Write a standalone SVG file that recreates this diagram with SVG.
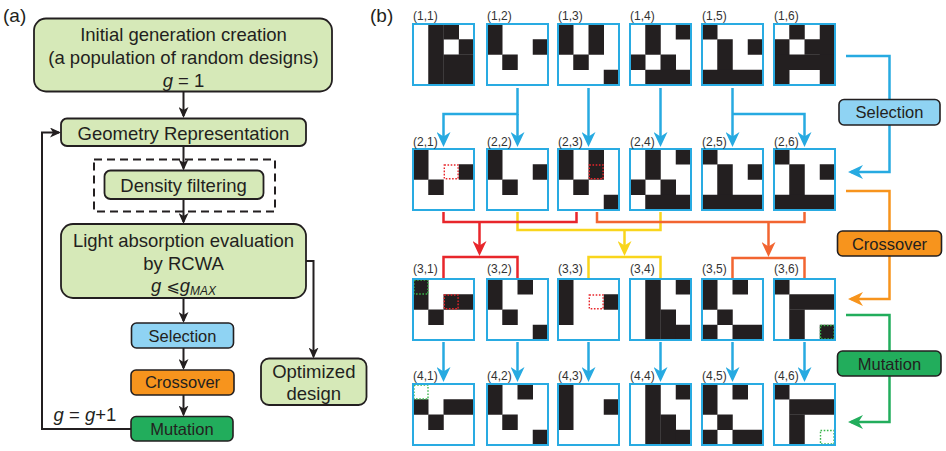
<svg xmlns="http://www.w3.org/2000/svg" xmlns:xlink="http://www.w3.org/1999/xlink" width="946" height="451" viewBox="0 0 946 451">
<style>
.t{font-family:"Liberation Sans",Arial,sans-serif;font-size:18.5px;fill:#231f20;text-anchor:middle}
.s{font-size:16.5px}
.lb{font-family:"Liberation Sans",Arial,sans-serif;font-size:12px;fill:#333}
.pl{font-family:"Liberation Sans",Arial,sans-serif;font-size:19px;fill:#231f20}
.gb{fill:#d6e9b8;stroke:#231f20;stroke-width:1.8}
.bx{stroke:#231f20;stroke-width:1.6}
.fr{fill:none;stroke:#29abe2;stroke-width:2}
.k{fill:#231f20}
.rd{fill:none;stroke:#e8262b;stroke-width:1.4;stroke-dasharray:1.6 1.6}
.gd{fill:none;stroke:#39b54a;stroke-width:1.4;stroke-dasharray:1.6 1.6}
.ln{fill:none;stroke-width:2.5}
</style>
<defs>
<marker id="mk" viewBox="-11 -5 11 10" refX="-2" refY="0" markerWidth="11" markerHeight="10" markerUnits="userSpaceOnUse" orient="auto"><path d="M0,0 L-11,-5 L-8,0 L-11,5Z" fill="#231f20"/></marker>
<marker id="mb" viewBox="-15 -7 15 14" refX="-3" refY="0" markerWidth="15" markerHeight="14" markerUnits="userSpaceOnUse" orient="auto"><path d="M0,0 L-15,-7 L-10.5,0 L-15,7Z" fill="#27aae1"/></marker>
<marker id="mr" viewBox="-15 -7 15 14" refX="-3" refY="0" markerWidth="15" markerHeight="14" markerUnits="userSpaceOnUse" orient="auto"><path d="M0,0 L-15,-7 L-10.5,0 L-15,7Z" fill="#e8262b"/></marker>
<marker id="my" viewBox="-15 -7 15 14" refX="-3" refY="0" markerWidth="15" markerHeight="14" markerUnits="userSpaceOnUse" orient="auto"><path d="M0,0 L-15,-7 L-10.5,0 L-15,7Z" fill="#f9d51c"/></marker>
<marker id="mo" viewBox="-15 -7 15 14" refX="-3" refY="0" markerWidth="15" markerHeight="14" markerUnits="userSpaceOnUse" orient="auto"><path d="M0,0 L-15,-7 L-10.5,0 L-15,7Z" fill="#f26531"/></marker>
<marker id="mc" viewBox="-15 -7 15 14" refX="-3" refY="0" markerWidth="15" markerHeight="14" markerUnits="userSpaceOnUse" orient="auto"><path d="M0,0 L-15,-7 L-10.5,0 L-15,7Z" fill="#f7941d"/></marker>
<marker id="mg" viewBox="-15 -7 15 14" refX="-3" refY="0" markerWidth="15" markerHeight="14" markerUnits="userSpaceOnUse" orient="auto"><path d="M0,0 L-15,-7 L-10.5,0 L-15,7Z" fill="#22ad5c"/></marker>
<g id="p11" class="k"><rect x="15.25" y="0" width="15.5" height="61"/><rect x="30.5" y="0" width="15.5" height="15.5"/><rect x="45.75" y="15.25" width="15.25" height="15.5"/><rect x="30.5" y="30.5" width="30.5" height="30.5"/></g>
<g id="p12" class="k"><rect x="0" y="0" width="15.5" height="30.75"/><rect x="45.75" y="15.25" width="15.25" height="15.5"/><rect x="15.25" y="30.5" width="15.5" height="15.5"/></g>
<g id="p13" class="k"><rect x="0" y="0" width="15.5" height="30.75"/><rect x="30.5" y="0" width="15.5" height="30.75"/><rect x="15.25" y="30.5" width="15.5" height="15.5"/><rect x="45.75" y="45.75" width="15.25" height="15.25"/></g>
<g id="p14" class="k"><rect x="15.25" y="0" width="15.5" height="30.75"/><rect x="45.75" y="0" width="15.25" height="15.5"/><rect x="0" y="30.5" width="15.5" height="15.5"/><rect x="30.5" y="30.5" width="15.5" height="15.5"/><rect x="15.25" y="45.75" width="45.75" height="15.25"/></g>
<g id="p15" class="k"><rect x="0" y="0" width="15.5" height="15.5"/><rect x="15.25" y="15.25" width="15.5" height="30.75"/><rect x="45.75" y="15.25" width="15.25" height="15.5"/><rect x="0" y="45.75" width="61" height="15.25"/></g>
<g id="p16" class="k"><rect x="15.25" y="0" width="15.5" height="15.5"/><rect x="45.75" y="0" width="15.25" height="61"/><rect x="0" y="15.25" width="15.5" height="45.75"/><rect x="30.5" y="15.25" width="15.5" height="15.5"/><rect x="0" y="30.5" width="61" height="15.5"/></g>
<g id="p31" class="k"><rect x="0" y="0" width="15.5" height="30.75"/><rect x="30.5" y="15.25" width="30.5" height="15.5"/><rect x="15.25" y="30.5" width="15.5" height="15.5"/></g>
<g id="p32" class="k"><rect x="0" y="0" width="15.5" height="30.75"/><rect x="30.5" y="0" width="15.5" height="15.5"/><rect x="15.25" y="30.5" width="15.5" height="15.5"/><rect x="45.75" y="45.75" width="15.25" height="15.25"/></g>
<g id="p33" class="k"><rect x="0" y="0" width="15.5" height="46"/><rect x="45.75" y="15.25" width="15.25" height="15.5"/></g>
<g id="p34" class="k"><rect x="15.25" y="0" width="15.5" height="61"/><rect x="45.75" y="0" width="15.25" height="15.5"/><rect x="30.5" y="30.5" width="15.5" height="30.5"/><rect x="45.75" y="45.75" width="15.25" height="15.25"/></g>
<g id="p35" class="k"><rect x="0" y="0" width="15.5" height="30.75"/><rect x="30.5" y="0" width="15.5" height="15.5"/><rect x="15.25" y="30.5" width="15.5" height="15.5"/><rect x="0" y="45.75" width="15.5" height="15.25"/><rect x="30.5" y="45.75" width="30.5" height="15.25"/></g>
<g id="p36" class="k"><rect x="0" y="0" width="15.5" height="15.5"/><rect x="15.25" y="15.25" width="45.75" height="15.5"/><rect x="15.25" y="30.5" width="15.5" height="30.5"/><rect x="45.75" y="45.75" width="15.25" height="15.25"/></g>
<g id="p41" class="k"><rect x="0" y="15.25" width="15.5" height="15.5"/><rect x="30.5" y="15.25" width="30.5" height="15.5"/><rect x="15.25" y="30.5" width="15.5" height="15.5"/></g>
<g id="p46" class="k"><rect x="0" y="0" width="15.5" height="15.5"/><rect x="15.25" y="15.25" width="45.75" height="15.5"/><rect x="15.25" y="30.5" width="15.5" height="30.5"/></g>
</defs>
<rect x="0" y="0" width="946" height="451" fill="#fff"/>

<text class="pl" x="3" y="22">(a)</text>
<text class="pl" x="370" y="22">(b)</text>

<!-- panel (a) connectors -->
<g id="connectors-a" fill="none" stroke="#231f20" stroke-width="2">
<path d="M183.5,92 V116" marker-end="url(#mk)"/>
<path d="M183.5,146 V168.5" marker-end="url(#mk)"/>
<path d="M183.5,199 V222" marker-end="url(#mk)"/>
<path d="M183.5,298 V321" marker-end="url(#mk)"/>
<path d="M183.5,348 V368" marker-end="url(#mk)"/>
<path d="M183.5,395 V414.5" marker-end="url(#mk)"/>
<path d="M306,261 H313.5 V356.5" marker-end="url(#mk)"/>
<path d="M131,429 H42 V132.5 H59" marker-end="url(#mk)"/>
<rect x="94" y="159.5" width="181" height="52" stroke-dasharray="8 5"/>
</g>

<g id="a-init"><rect class="gb" x="34" y="18.5" width="298" height="73" rx="12"/>
<text class="t" x="183.5" y="41">Initial generation creation</text>
<text class="t" x="183.5" y="63.5">(a population of random designs)</text>
<text class="t" x="183.5" y="86.5"><tspan font-style="italic">g</tspan> = 1</text></g>
<g id="a-geom"><rect class="gb" x="61" y="118.5" width="245" height="27.5" rx="6"/>
<text class="t" x="183.5" y="139.5">Geometry Representation</text></g>
<g id="a-density"><rect class="gb" x="104.5" y="170.5" width="159" height="28.5" rx="6"/>
<text class="t" x="183.5" y="191.5">Density filtering</text></g>
<g id="a-light"><rect class="gb" x="61" y="224" width="245" height="74" rx="12"/>
<text class="t" x="183.5" y="247">Light absorption evaluation</text>
<text class="t" x="183.5" y="270">by RCWA</text>
<text class="t" x="183.5" y="292"><tspan font-style="italic">g</tspan> <tspan font-family="'DejaVu Sans',sans-serif" font-size="16">⩽</tspan><tspan font-style="italic">g</tspan><tspan font-style="italic" font-size="12" dy="3">MAX</tspan></text></g>
<g id="a-selection"><rect class="bx" x="131.5" y="323" width="102" height="25" rx="5" fill="#8fd3f3"/>
<text class="t s" x="182.5" y="341.5">Selection</text></g>
<g id="a-crossover"><rect class="bx" x="131" y="370" width="103" height="25" rx="5" fill="#f7941d"/>
<text class="t s" x="182.5" y="388.3">Crossover</text></g>
<g id="a-mutation"><rect class="bx" x="131" y="416.5" width="102" height="24.5" rx="5" fill="#22ad5c"/>
<text class="t s" x="182" y="434.8">Mutation</text></g>
<g id="a-optimized"><rect class="gb" x="261" y="358.5" width="105.5" height="46.5" rx="8"/>
<text class="t" x="313.8" y="378">Optimized</text>
<text class="t" x="313.8" y="400">design</text></g>
<text class="t" x="53.5" y="421" style="text-anchor:start"><tspan font-style="italic">g</tspan> = <tspan font-style="italic">g</tspan>+1</text>

<!-- panel (b) connectors -->
<g id="connectors-b">
<g class="ln" stroke="#27aae1">
<path d="M517.5,88 V114 H443.5 V144" marker-end="url(#mb)"/>
<path d="M517.5,114 V144" marker-end="url(#mb)"/>
<path d="M588.5,88 V144" marker-end="url(#mb)"/>
<path d="M660.5,88 V144" marker-end="url(#mb)"/>
<path d="M732.5,88 V144" marker-end="url(#mb)"/>
<path d="M732.5,114 H804.5 V144" marker-end="url(#mb)"/>
<path d="M846,56 H889.5 V172 H851" marker-end="url(#mb)"/>
<path d="M443.5,342 V379" marker-end="url(#mb)"/>
<path d="M517.5,342 V379" marker-end="url(#mb)"/>
<path d="M588.5,342 V379" marker-end="url(#mb)"/>
<path d="M660.5,342 V379" marker-end="url(#mb)"/>
<path d="M732.5,342 V379" marker-end="url(#mb)"/>
<path d="M804.5,342 V379" marker-end="url(#mb)"/>
</g>
<g class="ln" stroke="#f9d51c">
<path d="M517.5,212 V230 H660.5 V212"/>
<path d="M624.5,230 V253" marker-end="url(#my)"/>
<path d="M588.5,279 V257 H660.5 V279"/>
</g>
<g class="ln" stroke="#e8262b">
<path d="M443.5,212 V222 H576.5 V212"/>
<path d="M479.5,222 V253" marker-end="url(#mr)"/>
<path d="M443.5,279 V257 H517.5 V279"/>
</g>
<g class="ln" stroke="#f26531">
<path d="M597,212 V222 H804.5 V212"/>
<path d="M768.5,222 V254" marker-end="url(#mo)"/>
<path d="M732.5,279 V258 H804.5 V279"/>
</g>
<path class="ln" stroke="#f7941d" d="M846,191 H889.5 V299 H851" marker-end="url(#mc)"/>
<path class="ln" stroke="#22ad5c" d="M846,315 H889.5 V422 H851" marker-end="url(#mg)"/>
</g>

<g id="b-selection"><rect class="bx" x="839" y="99.5" width="101" height="25.5" rx="5" fill="#8fd3f3"/>
<text class="t s" x="889.5" y="118">Selection</text></g>
<g id="b-crossover"><rect class="bx" x="837.5" y="231" width="104" height="25" rx="5" fill="#f7941d"/>
<text class="t s" x="889.5" y="249.5">Crossover</text></g>
<g id="b-mutation"><rect class="bx" x="837.5" y="351" width="103.5" height="25" rx="5" fill="#22ad5c"/>
<text class="t s" x="889.5" y="369.5">Mutation</text></g>

<!-- row 1 -->
<g id="n1-1" transform="translate(413,24)"><use href="#p11"/><rect class="fr" width="61" height="61"/><text class="lb" x="0" y="-4.5">(1,1)</text></g>
<g id="n1-2" transform="translate(487,24)"><use href="#p12"/><rect class="fr" width="61" height="61"/><text class="lb" x="0" y="-4.5">(1,2)</text></g>
<g id="n1-3" transform="translate(558,24)"><use href="#p13"/><rect class="fr" width="61" height="61"/><text class="lb" x="0" y="-4.5">(1,3)</text></g>
<g id="n1-4" transform="translate(630,24)"><use href="#p14"/><rect class="fr" width="61" height="61"/><text class="lb" x="0" y="-4.5">(1,4)</text></g>
<g id="n1-5" transform="translate(702,24)"><use href="#p15"/><rect class="fr" width="61" height="61"/><text class="lb" x="0" y="-4.5">(1,5)</text></g>
<g id="n1-6" transform="translate(774,24)"><use href="#p16"/><rect class="fr" width="61" height="61"/><text class="lb" x="0" y="-4.5">(1,6)</text></g>
<!-- row 2 -->
<g id="n2-1" transform="translate(413,149)"><use href="#p12"/><rect class="rd" x="31.3" y="16" width="13.8" height="13.8"/><rect class="fr" width="61" height="61"/><text class="lb" x="0" y="-3.5">(2,1)</text></g>
<g id="n2-2" transform="translate(487,149)"><use href="#p12"/><rect class="fr" width="61" height="61"/><text class="lb" x="0" y="-3.5">(2,2)</text></g>
<g id="n2-3" transform="translate(558,149)"><use href="#p13"/><rect class="rd" x="31.3" y="16" width="13.8" height="13.8"/><rect class="fr" width="61" height="61"/><text class="lb" x="0" y="-3.5">(2,3)</text></g>
<g id="n2-4" transform="translate(630,149)"><use href="#p14"/><rect class="fr" width="61" height="61"/><text class="lb" x="0" y="-3.5">(2,4)</text></g>
<g id="n2-5" transform="translate(702,149)"><use href="#p15"/><rect class="fr" width="61" height="61"/><text class="lb" x="0" y="-3.5">(2,5)</text></g>
<g id="n2-6" transform="translate(774,149)"><use href="#p15"/><rect class="fr" width="61" height="61"/><text class="lb" x="0" y="-3.5">(2,6)</text></g>
<!-- row 3 -->
<g id="n3-1" transform="translate(413,279)"><use href="#p31"/><rect class="gd" x="1" y="1" width="14" height="14"/><rect class="rd" x="31.3" y="16" width="13.8" height="13.8"/><rect class="fr" width="61" height="61"/><text class="lb" x="0" y="-6">(3,1)</text></g>
<g id="n3-2" transform="translate(487,279)"><use href="#p32"/><rect class="fr" width="61" height="61"/><text class="lb" x="0" y="-6">(3,2)</text></g>
<g id="n3-3" transform="translate(558,279)"><use href="#p33"/><rect class="rd" x="31.3" y="16" width="13.8" height="13.8"/><rect class="fr" width="61" height="61"/><text class="lb" x="0" y="-6">(3,3)</text></g>
<g id="n3-4" transform="translate(630,279)"><use href="#p34"/><rect class="fr" width="61" height="61"/><text class="lb" x="0" y="-6">(3,4)</text></g>
<g id="n3-5" transform="translate(702,279)"><use href="#p35"/><rect class="fr" width="61" height="61"/><text class="lb" x="0" y="-6">(3,5)</text></g>
<g id="n3-6" transform="translate(774,279)"><use href="#p36"/><rect class="gd" x="46.5" y="46.5" width="13.5" height="13.5"/><rect class="fr" width="61" height="61"/><text class="lb" x="0" y="-6">(3,6)</text></g>
<!-- row 4 -->
<g id="n4-1" transform="translate(413,384)"><use href="#p41"/><rect class="gd" x="1" y="1" width="14" height="14"/><rect class="fr" width="61" height="61"/><text class="lb" x="0" y="-4.5">(4,1)</text></g>
<g id="n4-2" transform="translate(487,384)"><use href="#p32"/><rect class="fr" width="61" height="61"/><text class="lb" x="0" y="-4.5">(4,2)</text></g>
<g id="n4-3" transform="translate(558,384)"><use href="#p33"/><rect class="fr" width="61" height="61"/><text class="lb" x="0" y="-4.5">(4,3)</text></g>
<g id="n4-4" transform="translate(630,384)"><use href="#p34"/><rect class="fr" width="61" height="61"/><text class="lb" x="0" y="-4.5">(4,4)</text></g>
<g id="n4-5" transform="translate(702,384)"><use href="#p35"/><rect class="fr" width="61" height="61"/><text class="lb" x="0" y="-4.5">(4,5)</text></g>
<g id="n4-6" transform="translate(774,384)"><use href="#p46"/><rect class="gd" x="46.5" y="46.5" width="13.5" height="13.5"/><rect class="fr" width="61" height="61"/><text class="lb" x="0" y="-4.5">(4,6)</text></g>
</svg>
